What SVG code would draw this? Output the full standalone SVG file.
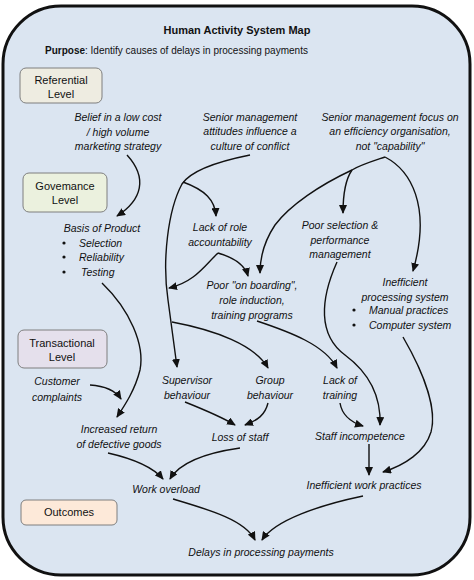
<svg xmlns="http://www.w3.org/2000/svg" width="474" height="580" viewBox="0 0 474 580">
<style>
.lvl{font-family:"Liberation Sans",Arial,sans-serif;font-size:11px;fill:#111;text-anchor:middle}
.n{font-family:"Liberation Sans",Arial,sans-serif;font-style:italic;font-size:10.5px;fill:#111;text-anchor:middle}
.nl{font-family:"Liberation Sans",Arial,sans-serif;font-style:italic;font-size:10.5px;fill:#111;text-anchor:start}
.box{stroke:#7f7f7f;stroke-width:1}
.c path{fill:none;stroke:#111;stroke-width:1.4;marker-end:url(#ah)}
</style>
<defs>
<marker id="ah" markerUnits="userSpaceOnUse" markerWidth="9" markerHeight="8" refX="8" refY="4" orient="auto">
<path d="M0,0 L9,4 L0,8 z" fill="#111"/>
</marker>
</defs>
<rect x="3" y="6" width="467" height="569" rx="58" ry="58" fill="#dbe5f1" stroke="#111" stroke-width="3"/>
<g id="title">
<text x="237" y="34" class="lvl" font-weight="bold">Human Activity System Map</text>
<text x="45" y="54" font-family="Liberation Sans,Arial,sans-serif" font-size="10px" fill="#111"><tspan font-weight="bold">Purpose</tspan>: Identify causes of delays in processing payments</text>
</g>
<g id="referential">
<rect x="20" y="68" width="82" height="35" rx="6" class="box" fill="#eeece1"/>
<text x="61" y="84" class="lvl">Referential</text>
<text x="61" y="98" class="lvl">Level</text>
</g>
<g id="governance">
<rect x="23" y="173" width="84" height="39" rx="6" class="box" fill="#ebf1de"/>
<text x="65" y="190" class="lvl">Govemance</text>
<text x="65" y="204" class="lvl">Level</text>
</g>
<g id="transactional">
<rect x="18" y="330" width="89" height="38" rx="6" class="box" fill="#e5e0ec"/>
<text x="62" y="347" class="lvl">Transactional</text>
<text x="62" y="361" class="lvl">Level</text>
</g>
<g id="outcomes">
<rect x="21" y="500" width="96" height="25" rx="5" class="box" fill="#fde9d9"/>
<text x="69" y="516" class="lvl">Outcomes</text>
</g>
<g id="belief"><text class="n" x="118" y="121">Belief in a low cost</text><text class="n" x="118" y="136">/ high volume</text><text class="n" x="118" y="150">marketing strategy</text></g>
<g id="attitudes"><text class="n" x="250" y="121">Senior management</text><text class="n" x="250" y="135">attitudes influence a</text><text class="n" x="250" y="150">culture of conflict</text></g>
<g id="focus"><text class="n" x="390" y="121">Senior management focus on</text><text class="n" x="390" y="135">an efficiency organisation,</text><text class="n" x="390" y="150">not "capability"</text></g>
<g id="basis"><text class="n" x="102" y="232">Basis of Product</text>
<circle cx="64" cy="243" r="1.6" fill="#111"/><text class="nl" x="79" y="247">Selection</text>
<circle cx="64" cy="257" r="1.6" fill="#111"/><text class="nl" x="79" y="261">Reliability</text>
<circle cx="64" cy="272" r="1.6" fill="#111"/><text class="nl" x="81" y="276">Testing</text></g>
<g id="lackrole"><text class="n" x="220" y="231">Lack of role</text><text class="n" x="220" y="246">accountability</text></g>
<g id="poorselection"><text class="n" x="340" y="229">Poor selection &amp;</text><text class="n" x="340" y="244">performance</text><text class="n" x="340" y="258">management</text></g>
<g id="onboarding"><text class="n" x="252" y="289">Poor "on boarding",</text><text class="n" x="252" y="304">role induction,</text><text class="n" x="252" y="319">training programs</text></g>
<g id="processing"><text class="n" x="405" y="286">Inefficient</text><text class="n" x="405" y="301">processing system</text>
<circle cx="354" cy="310" r="1.6" fill="#111"/><text class="nl" x="369" y="314">Manual practices</text>
<circle cx="354" cy="325" r="1.6" fill="#111"/><text class="nl" x="369" y="329">Computer system</text></g>
<g id="customer"><text class="n" x="57" y="385">Customer</text><text class="n" x="57" y="401">complaints</text></g>
<g id="supervisor"><text class="n" x="187" y="384">Supervisor</text><text class="n" x="187" y="399">behaviour</text></g>
<g id="group"><text class="n" x="270" y="384">Group</text><text class="n" x="270" y="399">behaviour</text></g>
<g id="lacktraining"><text class="n" x="340" y="384">Lack of</text><text class="n" x="340" y="399">training</text></g>
<g id="returns"><text class="n" x="119" y="433">Increased return</text><text class="n" x="119" y="448">of defective goods</text></g>
<g id="loss"><text class="n" x="240" y="441">Loss of staff</text></g>
<g id="incompetence"><text class="n" x="360" y="440">Staff incompetence</text></g>
<g id="overload"><text class="n" x="166" y="493">Work overload</text></g>
<g id="practices"><text class="n" x="364" y="489">Inefficient work practices</text></g>
<g id="delays"><text class="n" x="261" y="556">Delays in processing payments</text></g>
<g id="connectors" class="c">
<path d="M127,155 C148,178 142,200 117,216"/>
<path d="M250,155 C215,162 190,172 182,184 C168,210 162,260 168,300 L177,367"/>
<path d="M183,182 C205,190 215,200 216,216"/>
<path d="M218,253 C205,265 195,282 169,288"/>
<path d="M218,253 C235,258 245,265 248,276"/>
<path d="M385,157 C370,162 360,165 352,170 C320,185 290,205 275,225 C265,240 260,255 260,273"/>
<path d="M352,170 C345,180 343,195 343,213"/>
<path d="M385,157 C410,170 432,205 413,271"/>
<path d="M172,322 C215,330 255,345 268,368"/>
<path d="M257,321 C290,332 325,345 337,368"/>
<path d="M337,262 C320,300 318,335 345,355 C372,375 381,400 380,425"/>
<path d="M403,337 C425,375 437,410 431,432 C425,452 405,465 383,472"/>
<path d="M340,403 C342,415 350,422 363,426"/>
<path d="M185,402 C205,410 220,416 235,425"/>
<path d="M268,403 C265,415 258,420 245,425"/>
<path d="M90,385 C105,386 115,390 121,399"/>
<path d="M102,283 C130,310 145,345 140,370 C135,390 125,405 117,417"/>
<path d="M108,453 C130,458 152,466 163,479"/>
<path d="M240,448 C205,453 180,462 170,479"/>
<path d="M369,444 L369,475"/>
<path d="M173,499 C210,510 245,520 255,540"/>
<path d="M363,496 C320,505 275,520 262,540"/>
</g>
</svg>
